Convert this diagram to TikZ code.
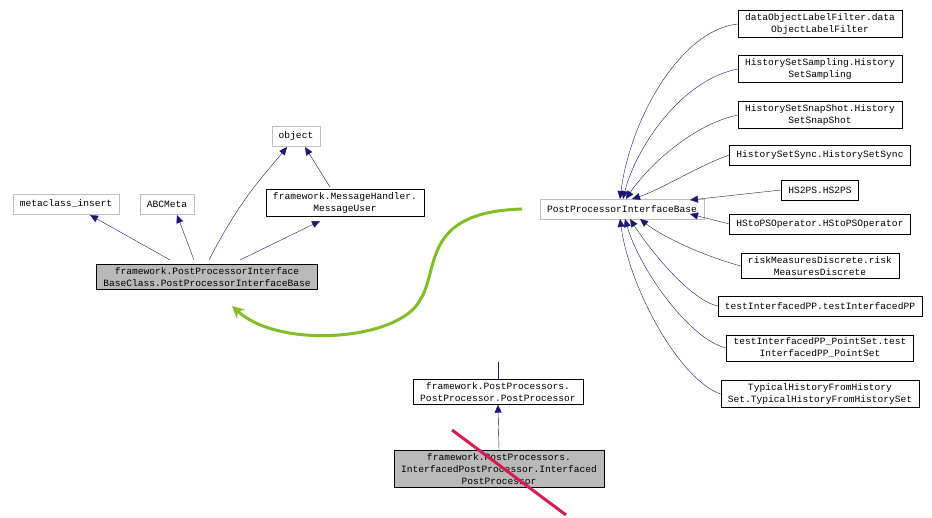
\documentclass[tikz,border=0pt]{standalone}
\usepackage{fontspec}
\setmonofont{Liberation Mono}
\usetikzlibrary{arrows.meta}
\definecolor{edge}{RGB}{25,25,112}
\definecolor{grn}{RGB}{130,190,40}
\definecolor{rd}{RGB}{210,30,80}
\begin{document}
\begin{tikzpicture}[x=1pt,y=-1pt,
  box/.style={draw=black,fill=white,font=\ttfamily\fontsize{9.6}{12}\selectfont,align=center,inner xsep=7pt,inner ysep=3pt,minimum height=20pt},
  lbox/.style={box,draw=gray!50},
  gbox/.style={box,fill=gray!55,line width=0.8pt},
  ar/.style={draw=edge,-{Triangle[length=8pt,width=7pt,fill=edge]}}]
\useasboundingbox (0,0) rectangle (932,518);
\node[lbox] (obj) at (296,136) {object};
\node[lbox] (meta) at (66,204) {metaclass\_insert};
\node[lbox] (abc) at (167,204) {ABCMeta};
\node[box] (mu) at (345,203) {framework.MessageHandler.\\MessageUser};
\node[gbox] (base) at (207,277) {framework.PostProcessorInterface\\BaseClass.PostProcessorInterfaceBase};
\node[lbox] (ppib) at (622,209) {PostProcessorInterfaceBase};
\draw[ar] (170,260) -- (90,215);
\draw[ar] (194,260) -- (177,215);
\draw[ar] (209,260) .. controls (240,200) and (260,180) .. (287,147);
\draw[ar] (240,260) -- (320,221);
\draw[ar] (330,187) -- (305,147);
\foreach \n/\y/\t in {a/24/{dataObjectLabelFilter.data\\ObjectLabelFilter},
 b/69/{HistorySetSampling.History\\SetSampling},
 c/115/{HistorySetSnapShot.History\\SetSnapShot},
 d/155/{HistorySetSync.HistorySetSync},
 e/190/{HS2PS.HS2PS},
 f/224/{HStoPSOperator.HStoPSOperator},
 g/266/{riskMeasuresDiscrete.risk\\MeasuresDiscrete},
 h/306/{testInterfacedPP.testInterfacedPP},
 i/348/{testInterfacedPP\_PointSet.test\\InterfacedPP\_PointSet},
 j/394/{TypicalHistoryFromHistory\\Set.TypicalHistoryFromHistorySet}}
 {\node[box] (\n) at (820,\y) {\t};}
\draw[ar] (a.west) .. controls (680,30) and (630,120) .. (620,199);
\draw[ar] (b.west) .. controls (680,80) and (635,150) .. (623,199);
\draw[ar] (c.west) .. controls (690,125) and (645,170) .. (626,199);
\draw[ar] (d.west) .. controls (700,165) and (660,190) .. (632,199);
\draw[ar] (e.west) -- (690,200);
\draw[ar] (f.west) -- (690,214);
\draw[ar] (g.west) .. controls (700,255) and (660,235) .. (640,219);
\draw[ar] (h.west) .. controls (690,300) and (650,250) .. (630,219);
\draw[ar] (i.west) .. controls (690,340) and (640,270) .. (625,219);
\draw[ar] (j.west) .. controls (680,380) and (630,290) .. (620,219);
\node[box] (pp) at (498,392) {framework.PostProcessors.\\PostProcessor.PostProcessor};
\node[gbox] (ipp) at (499,469) {framework.PostProcessors.\\InterfacedPostProcessor.Interfaced\\PostProcessor};
\coordinate (top) at (498,362);
\draw[edge] (top) -- (pp.north);
\draw[ar] (ipp.north) -- (pp.south);
\draw[grn,line width=3pt,-{Stealth[length=12pt,width=12pt]}] (522,209) .. controls (420,212) and (440,270) .. (420,300) .. controls (400,340) and (280,350) .. (232,306);
\coordinate (r1) at (452,430); \coordinate (r2) at (566,515);
\draw[rd,line width=3pt] (r1) -- (r2);
\end{tikzpicture}
\end{document}
